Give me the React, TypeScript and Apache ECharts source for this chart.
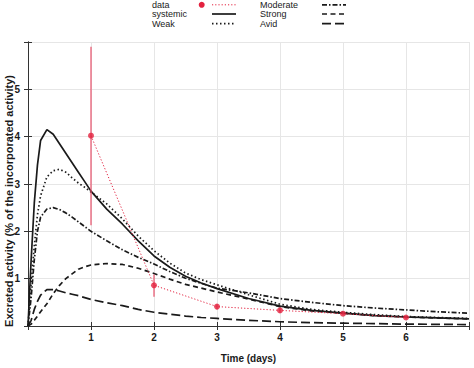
import React, { useEffect, useRef } from "react";
import * as echarts from "echarts";

// ---- data ----
const timePoints = [0, 0.05, 0.1, 0.15, 0.2, 0.3, 0.4, 0.5, 0.6, 0.7, 0.8, 0.9, 1, 1.25, 1.5, 1.75, 2, 2.25, 2.5, 2.75, 3, 3.5, 4, 4.5, 5, 5.5, 6, 6.5, 7];
const systemic = [0, 1.4, 2.6, 3.4, 3.92, 4.15, 4.05, 3.85, 3.65, 3.45, 3.25, 3.05, 2.85, 2.47, 2.15, 1.8, 1.48, 1.24, 1.05, 0.91, 0.79, 0.58, 0.42, 0.33, 0.27, 0.22, 0.19, 0.17, 0.15];
const weak = [0, 0.9, 1.7, 2.35, 2.75, 3.15, 3.28, 3.31, 3.25, 3.13, 3.02, 2.93, 2.83, 2.58, 2.26, 1.9, 1.59, 1.33, 1.12, 0.98, 0.87, 0.66, 0.46, 0.35, 0.29, 0.24, 0.2, 0.18, 0.16];
const moderate = [0, 0.6, 1.4, 2.0, 2.3, 2.47, 2.5, 2.46, 2.39, 2.3, 2.2, 2.1, 2.0, 1.8, 1.61, 1.45, 1.31, 1.15, 1.01, 0.9, 0.8, 0.7, 0.58, 0.5, 0.43, 0.38, 0.34, 0.3, 0.27];
const strong = [0, 0.04, 0.12, 0.21, 0.3, 0.47, 0.68, 0.86, 1.0, 1.1, 1.2, 1.25, 1.29, 1.32, 1.3, 1.22, 1.11, 0.99, 0.88, 0.8, 0.72, 0.57, 0.41, 0.32, 0.27, 0.22, 0.19, 0.17, 0.15];
const avid = [0, 0.12, 0.35, 0.52, 0.65, 0.77, 0.77, 0.74, 0.7, 0.67, 0.64, 0.6, 0.56, 0.49, 0.43, 0.35, 0.29, 0.25, 0.21, 0.18, 0.16, 0.12, 0.09, 0.07, 0.06, 0.05, 0.04, 0.035, 0.03];

const dataDays = [1, 2, 3, 4, 5, 6];
const dataMean = [4.02, 0.86, 0.41, 0.33, 0.26, 0.18];
const dataLow = [2.13, 0.62, 0.35, 0.28, 0.23, 0.15];
const dataHigh = [5.9, 1.09, 0.46, 0.38, 0.29, 0.21];

const xTicks = [1, 2, 3, 4, 5, 6];
const yTicks = [1, 2, 3, 4, 5];

const legendCol1 = ["data", "systemic", "Weak"];
const legendCol2 = ["Moderate", "Strong", "Avid"];

const FONT = '"Liberation Sans", Arial, Helvetica, sans-serif';
const RED = "#e3223f";
const INK = "#1a1a1a";

const pair = (ys: number[]) => timePoints.map((t, i) => [t, ys[i]]);

export default function App() {
  const ref = useRef<HTMLDivElement>(null);
  useEffect(() => {
    if (!ref.current) return;
    const chart = echarts.init(ref.current, undefined, { renderer: "svg" });

    const curve = (name: string, ys: number[], type: any, width = 1.7) => ({
      name,
      type: "line",
      data: pair(ys),
      showSymbol: false,
      symbol: "none",
      xAxisIndex: 0,
      yAxisIndex: 0,
      lineStyle: { color: INK, width, type, cap: "butt" },
      z: 3,
    });

    const legendLine = (x1: number, y: number, dash: number[] | null, color = INK, w = 1.7) => ({
      type: "line",
      shape: { x1, y1: y, x2: x1 + 24, y2: y },
      style: { stroke: color, lineWidth: w, lineDash: dash || undefined },
    });
    const legendText = (text: string, x: number, y: number) => ({
      type: "text",
      x,
      y,
      style: {
        text,
        fill: INK,
        font: `9px ${FONT}`,
        lineHeight: 9,
        textAlign: "left",
        textVerticalAlign: "middle",
      },
    });

    const rowsY = [4.8, 14.2, 23.6];
    const lineY = [4.8, 14, 23.6];

    const option: any = {
      animation: false,
      grid: { left: 28, right: 5, top: 42, bottom: 32 },
      xAxis: [
        {
          type: "value",
          min: 0,
          max: 7,
          interval: 1,
          position: "bottom",
          name: "Time (days)",
          nameLocation: "middle",
          nameGap: 27,
          nameTextStyle: { fontFamily: FONT, fontWeight: "bold", fontSize: 10, color: INK },
          axisLine: { show: true, lineStyle: { color: "#333", width: 1 } },
          axisTick: { show: true, length: 4, lineStyle: { color: "#333" } },
          axisLabel: {
            fontFamily: FONT,
            fontWeight: "bold",
            fontSize: 10,
            color: INK,
            margin: 6,
            formatter: (v: number) => (xTicks.includes(v) ? String(v) : ""),
          },
          splitLine: { show: true, lineStyle: { color: "#e6e6e6", width: 1 } },
        },
        {
          type: "value",
          min: 0,
          max: 7,
          interval: 1,
          position: "top",
          axisLine: { show: true, lineStyle: { color: "#333", width: 1 } },
          axisTick: { show: true, length: 4, lineStyle: { color: "#333" } },
          axisLabel: { show: false },
          splitLine: { show: false },
        },
      ],
      yAxis: [
        {
          type: "value",
          min: 0,
          max: 6,
          interval: 1,
          position: "left",
          axisLine: { show: true, lineStyle: { color: "#333", width: 1 } },
          axisTick: { show: true, length: 4, lineStyle: { color: "#333" } },
          axisLabel: {
            fontFamily: FONT,
            fontWeight: "bold",
            fontSize: 10,
            color: INK,
            margin: 8,
            formatter: (v: number) => (yTicks.includes(v) ? String(v) : ""),
          },
          splitLine: { show: true, lineStyle: { color: "#e6e6e6", width: 1 } },
        },
        {
          type: "value",
          min: 0,
          max: 6,
          interval: 1,
          position: "right",
          axisLine: { show: true, lineStyle: { color: "#333", width: 1 } },
          axisTick: { show: true, length: 4, lineStyle: { color: "#333" } },
          axisLabel: { show: false },
          splitLine: { show: false },
        },
      ],
      series: [
        curve("Avid", avid, [9, 4]),
        curve("Strong", strong, [5, 3.5]),
        curve("Moderate", moderate, [5, 2, 1.5, 2]),
        curve("Weak", weak, [1.5, 2.5]),
        curve("systemic", systemic, "solid"),
        {
          name: "data-line",
          type: "line",
          data: dataDays.map((d, i) => [d, dataMean[i]]),
          showSymbol: false,
          symbol: "none",
          lineStyle: { color: RED, width: 1, type: [1.2, 2] },
          z: 4,
        },
        {
          name: "error",
          type: "custom",
          data: dataDays.map((d, i) => [d, dataLow[i], dataHigh[i]]),
          encode: { x: 0, y: [1, 2] },
          renderItem: (params: any, api: any) => {
            const x = api.value(0);
            const p1 = api.coord([x, api.value(1)]);
            const p2 = api.coord([x, api.value(2)]);
            return {
              type: "line",
              shape: { x1: p1[0], y1: p1[1], x2: p2[0], y2: p2[1] },
              style: { stroke: "#e8506a", lineWidth: 1.2 },
            };
          },
          z: 5,
        },
        {
          name: "data",
          type: "scatter",
          data: dataDays.map((d, i) => [d, dataMean[i]]),
          symbol: "circle",
          symbolSize: 6,
          itemStyle: { color: RED },
          z: 6,
        },
      ],
      graphic: [
        {
          type: "text",
          x: 9,
          y: 201,
          rotation: Math.PI / 2,
          style: {
            text: "Excreted activity (% of the incorporated activity)",
            fill: INK,
            font: `bold 11px ${FONT}`,
            textAlign: "center",
            textVerticalAlign: "middle",
          },
        },
        legendText(legendCol1[0], 152, rowsY[0]),
        legendText(legendCol1[1], 152, rowsY[1]),
        legendText(legendCol1[2], 152, rowsY[2]),
        legendText(legendCol2[0], 260, rowsY[0]),
        legendText(legendCol2[1], 260, rowsY[1]),
        legendText(legendCol2[2], 260, rowsY[2]),
        { type: "circle", shape: { cx: 201.7, cy: lineY[0], r: 3 }, style: { fill: RED } },
        legendLine(212, lineY[0], [1.2, 2], RED, 1),
        legendLine(212, lineY[1], null),
        legendLine(212, lineY[2], [1.5, 2.5]),
        legendLine(322, lineY[0], [5, 2, 1.5, 2]),
        legendLine(322, lineY[1], [5, 3.5]),
        legendLine(322, lineY[2], [9, 4]),
      ],
    };
    chart.setOption(option);
    return () => chart.dispose();
  }, []);
  return (
    <div
      ref={ref}
      style={{ position: "fixed", left: 0, top: 0, width: 474, height: 368, background: "#fff" }}
    />
  );
}
